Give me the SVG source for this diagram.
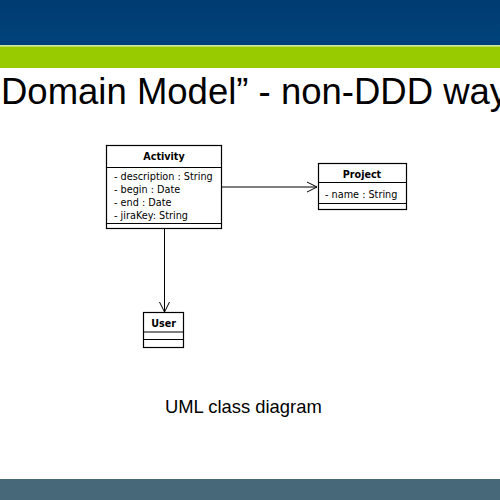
<svg xmlns="http://www.w3.org/2000/svg" width="500" height="500" viewBox="0 0 500 500">
<style>
.box{fill:#fff;stroke:#000;stroke-width:1.2}
.ln{stroke:#000;stroke-width:1}
.t{font-family:"DejaVu Sans",sans-serif;font-size:9.6px;font-weight:bold;fill:#000}
.a{font-family:"DejaVu Sans",sans-serif;font-size:9.7px;fill:#000}
.conn{stroke:#000;stroke-width:1;fill:none}
</style>
<defs>
<linearGradient id="bg" x1="0" y1="0" x2="0" y2="1">
<stop offset="0" stop-color="#003b70"/>
<stop offset="1" stop-color="#00437c"/>
</linearGradient>
<marker id="open" markerWidth="12" markerHeight="12" refX="10" refY="6" orient="auto" markerUnits="userSpaceOnUse">
<path d="M0,1 L10,6 L0,11" fill="none" stroke="#000" stroke-width="1"/>
</marker>
</defs>
<rect x="0" y="0" width="500" height="500" fill="#fff"/>
<rect x="0" y="0" width="500" height="45" fill="url(#bg)"/>
<rect x="0" y="45" width="500" height="1.5" fill="#cfe8a0"/>
<rect x="0" y="46.5" width="500" height="21.5" fill="#99cc00"/>
<rect x="0" y="479" width="500" height="21" fill="#476878"/>
<text x="1" y="104" font-family="Liberation Sans, Arial, sans-serif" font-size="36.5" fill="#000">Domain Model” - non-DDD way</text>
<text x="165" y="413" font-family="Liberation Sans, Arial, sans-serif" font-size="18.4" fill="#000">UML class diagram</text>
<g id="connectors">
<line class="conn" x1="221" y1="187" x2="317" y2="187" marker-end="url(#open)"/>
<line class="conn" x1="164.5" y1="228" x2="164.5" y2="312" marker-end="url(#open)"/>
</g>
<g id="Activity">
<rect class="box" x="106.5" y="145.5" width="115" height="83"/>
<line class="ln" x1="106.5" y1="167.5" x2="221.5" y2="167.5"/>
<line class="ln" x1="106.5" y1="223.5" x2="221.5" y2="223.5"/>
<text class="t" x="164" y="159.5" text-anchor="middle">Activity</text>
<text class="a" x="114" y="179.5">- description : String</text>
<text class="a" x="114" y="192.5">- begin : Date</text>
<text class="a" x="114" y="205.5">- end : Date</text>
<text class="a" x="114" y="218.5">- jiraKey: String</text>
</g>
<g id="Project">
<rect class="box" x="318.5" y="163.5" width="88" height="46"/>
<line class="ln" x1="318.5" y1="182.5" x2="406.5" y2="182.5"/>
<line class="ln" x1="318.5" y1="203.5" x2="406.5" y2="203.5"/>
<text class="t" x="362" y="177.5" text-anchor="middle">Project</text>
<text class="a" x="325" y="197.5">- name : String</text>
</g>
<g id="User">
<rect class="box" x="143.5" y="312.5" width="40" height="35"/>
<line class="ln" x1="143.5" y1="332" x2="183.5" y2="332"/>
<line class="ln" x1="143.5" y1="339.5" x2="183.5" y2="339.5"/>
<text class="t" x="163.5" y="326.5" text-anchor="middle">User</text>
</g>
</svg>
